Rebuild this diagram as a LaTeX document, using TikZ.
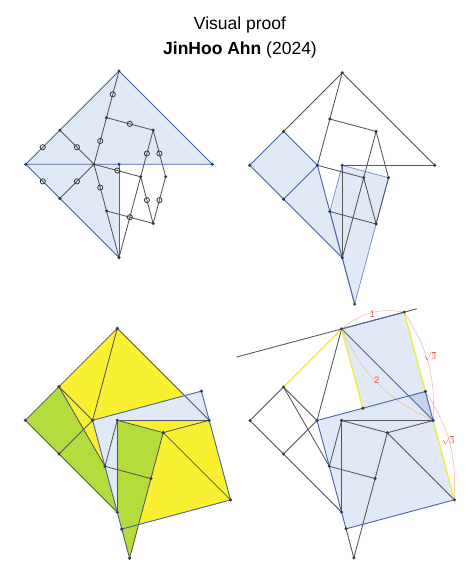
\documentclass[tikz,border=0pt]{standalone}
\usepackage{fontspec}
\setmainfont{Liberation Sans}
\usetikzlibrary{calc}
\definecolor{fillblue}{RGB}{226,233,246}
\definecolor{fillmid}{RGB}{196,211,238}
\definecolor{lineblue}{RGB}{70,100,165}
\definecolor{lightblue}{RGB}{120,150,205}
\definecolor{linegrey}{RGB}{85,85,85}
\definecolor{dotnavy}{RGB}{45,55,110}
\definecolor{dotgrey}{RGB}{55,55,55}
\definecolor{yel}{RGB}{250,240,50}
\definecolor{grn}{RGB}{180,220,60}
\definecolor{lineyel}{RGB}{240,235,60}
\definecolor{labred}{RGB}{225,95,95}
\definecolor{arcsal}{RGB}{245,190,165}
\newcommand\defpts[1]{%
\coordinate (#1L) at (0,0);
\coordinate (#1A1) at (0.7071,0.7071);
\coordinate (#1A2) at (0.7071,-0.7071);
\coordinate (#1C) at (1.4142,0);
\coordinate (#1M) at (1.9319,0);
\coordinate (#1R) at (3.8637,0);
\coordinate (#1T) at (1.9319,1.9319);
\coordinate (#1B) at (1.9319,-1.9319);
\coordinate (#1P1) at (1.6730,0.9659);
\coordinate (#1P2) at (2.6389,0.7071);
\coordinate (#1P3) at (2.3801,-0.2588);
\coordinate (#1S) at (2.8977,-0.2588);
\coordinate (#1Q1) at (1.6730,-0.9659);
\coordinate (#1Q2) at (2.6389,-1.2247);
\coordinate (#1Z) at (2.1907,-2.8978);
\coordinate (#1U) at (3.6997,0.6124);
\coordinate (#1V) at (4.3121,-1.6731);
\coordinate (#1W) at (2.0266,-2.2855);
\coordinate (#1X) at (2.3800,-2.1906);
\coordinate (#1P) at (3.3461,0.5176);
\coordinate (#1N) at (2.3801,0.2588);
\coordinate (#1Y) at (3.2514,2.2854);
\coordinate (#1E1) at (-0.2800,1.3392);
\coordinate (#1E2) at (3.5160,2.3563);
}
\tikzset{
  gl/.style={draw=linegrey,line width=0.85pt,line cap=round,line join=round},
  bl/.style={draw=lineblue,line width=0.9pt,line cap=round,line join=round},
  lbl/.style={draw=lightblue,line width=0.8pt,line join=round},
  yl/.style={draw=lineyel,line width=1.3pt,line cap=round},
  circ/.style={draw=dotgrey,line width=0.8pt},
  arcst/.style={draw=arcsal,line width=0.6pt},
  lab/.style={text=labred,font=\fontsize{9.5}{10}\selectfont,inner sep=0.5pt},
}
\newcommand\dg[1]{\fill[dotgrey] (#1) circle (1.7pt);}
\newcommand\dn[1]{\fill[dotnavy] (#1) circle (1.7pt);}
\begin{document}
\begin{tikzpicture}
\useasboundingbox (0,0) rectangle (474pt,-585pt);
\fill[white] (0,0) rectangle (474pt,-585pt);
% title
\node[anchor=base,inner sep=0] (t1) at (240pt,-29.5pt) {\fontsize{17.5}{20}\selectfont Visual proof};
\node[anchor=base,inner sep=0] (t2) at (240pt,-54.3pt) {\fontsize{17.5}{20}\selectfont\textbf{JinHoo Ahn} (2024)};
% coordinates
\begin{scope}[shift={(25.7pt,-164.3pt)},x=48.3pt,y=48.3pt]\defpts{a}\end{scope}
\begin{scope}[shift={(249.7pt,-165.3pt)},x=47.9pt,y=47.9pt]\defpts{b}\end{scope}
\begin{scope}[shift={(25.3pt,-420.3pt)},x=47.6pt,y=47.6pt]\defpts{c}\end{scope}
\begin{scope}[shift={(250pt,-420.5pt)},x=47.4pt,y=47.4pt]\defpts{d}\end{scope}

% ---------- panel 1 ----------
\fill[fillblue] (aL)--(aT)--(aR)--(aM)--(aB)--cycle;
\draw[gl] (aT)--(aC)--(aB);
\draw[gl] (aA1)--(aC)--(aA2);
\draw[gl] (aP1)--(aP2)--(aB);
\draw[gl] (aP2)--(aS)--(aQ2)--(aP3);
\draw[gl] (aC)--(aP3);
\draw[gl] (aQ1)--(aQ2);
\draw[bl] (aB)--(aL)--(aT)--(aR)--(aL);
\draw[bl] (aM)--(aB);
\foreach \p/\q in {aL/aA1,aA1/aC,aL/aA2,aA2/aC,aT/aP1,aP1/aC,aP1/aP2,aP2/aP3,aC/aP3,aC/aQ1,aQ1/aQ2,aP2/aS,aS/aQ2,aP3/aQ2}
  \draw[circ] ($(\p)!0.5!(\q)$) circle (2.6pt);
\foreach \n in {aT,aL,aR,aB,aM} {\dn{\n}}
\foreach \n in {aC,aA1,aA2,aP1,aP2,aP3,aS,aQ1,aQ2} {\dg{\n}}

% ---------- panel 2 ----------
\fill[fillblue] (bL)--(bA1)--(bC)--(bB)--cycle;
\fill[fillblue] (bM)--(bS)--(bZ)--(bQ1)--cycle;
\draw[lbl] (bM)--(bS)--(bZ)--(bQ1)--cycle;
\draw[gl] (bT)--(bA1);
\draw[gl] (bT)--(bR);
\draw[gl] (bT)--(bC);
\draw[gl] (bP1)--(bP2)--(bB);
\draw[gl] (bP2)--(bS)--(bQ2);
\draw[gl] (bM)--(bR);
\draw[gl] (bM)--(bB);
\draw[gl] (bC)--(bP3)--(bQ2);
\draw[gl] (bQ1)--(bQ2);
\draw[bl] (bL)--(bA1)--(bC)--(bB)--cycle;
\draw[bl] (bA2)--(bC);
\draw[bl] (bB)--(bZ);
\foreach \n in {bT,bL,bC,bM,bB,bR} {\dn{\n}}
\foreach \n in {bA1,bA2,bP1,bP2,bP3,bS,bQ1,bQ2,bZ} {\dg{\n}}

% ---------- panel 3 ----------
\fill[fillblue] (cC)--(cU)--(cV)--(cW)--cycle;
\fill[yel] (cT)--(cA1)--(cQ1)--(cC)--(cP)--cycle;
\fill[grn] (cL)--(cA1)--(cQ1)--(cB)--cycle;
\fill[grn] (cM)--(cS)--(cZ)--(cB)--cycle;
\fill[yel] (cM)--(cR)--(cV)--(cX)--(cS)--cycle;
\draw[gl] (cT)--(cA1)--(cL)--(cB);
\draw[gl] (cT)--(cC);
\draw[gl] (cT)--(cR);
\draw[gl] (cA1)--(cC);
\draw[gl] (cA1)--(cQ1);
\draw[gl] (cA2)--(cC);
\draw[gl] (cM)--(cR);
\draw[gl] (cM)--(cB);
\draw[gl] (cM)--(cS)--(cR);
\draw[gl] (cS)--(cV);
\draw[gl] (cS)--(cZ);
\draw[gl] (cM)--(cQ1)--(cQ2);
\draw[gl] (cW)--(cZ);
\draw[bl] (cC)--(cU)--(cV)--(cW)--cycle;
\foreach \n in {cT,cL,cC,cM,cR,cB} {\dn{\n}}
\foreach \n in {cA1,cA2,cS,cU,cV,cQ1,cQ2,cW,cZ} {\dg{\n}}

% ---------- panel 4 ----------
\fill[fillblue] (dC)--(dU)--(dV)--(dW)--cycle;
\fill[fillblue] (dT)--(dY)--(dU)--(dN)--cycle;
\fill[fillmid] (dP)--(dU)--(dR)--cycle;
\draw[arcst] (dT) to[bend left=25] (dY);
\draw[arcst] (dY) to[bend left=18] (dR);
\draw[arcst] (dT) to[bend right=20] (dR);
\draw[arcst] (dU) to[bend left=18] (dV);
\draw[gl] (dE1)--(dE2);
\draw[gl] (dL)--(dA1);
\draw[gl] (dL)--(dB);
\draw[gl] (dA1)--(dC);
\draw[gl] (dA1)--(dQ1);
\draw[gl] (dA2)--(dC);
\draw[gl] (dT)--(dC);
\draw[gl] (dM)--(dR);
\draw[gl] (dM)--(dB);
\draw[gl] (dM)--(dS)--(dR);
\draw[gl] (dS)--(dV);
\draw[gl] (dS)--(dZ);
\draw[gl] (dM)--(dQ1)--(dQ2);
\draw[gl] (dW)--(dZ);
\draw[bl] (dT)--(dY);
\draw[bl] (dT)--(dR);
\draw[bl] (dU)--(dR);
\draw[bl] (dC)--(dU);
\draw[bl] (dC)--(dW)--(dV);
\draw[yl] (dT)--(dA1);
\draw[yl] (dT)--(dN);
\draw[yl] (dY)--(dU);
\draw[yl] (dR)--(dV);
\node[lab] (l1) at (372.3pt,-314pt) {1};
\node[lab] (l2) at (430pt,-356pt) {$\sqrt{3}$};
\node[lab] (l3) at (376.7pt,-380pt) {2};
\node[lab] (l4) at (448.3pt,-440pt) {$\sqrt{3}$};
\foreach \n in {dT,dL,dC,dR,dB} {\dn{\n}}
\foreach \n in {dY,dA1,dA2,dM,dN,dU,dS,dQ1,dQ2,dW,dZ,dV} {\dg{\n}}
\end{tikzpicture}
\end{document}
